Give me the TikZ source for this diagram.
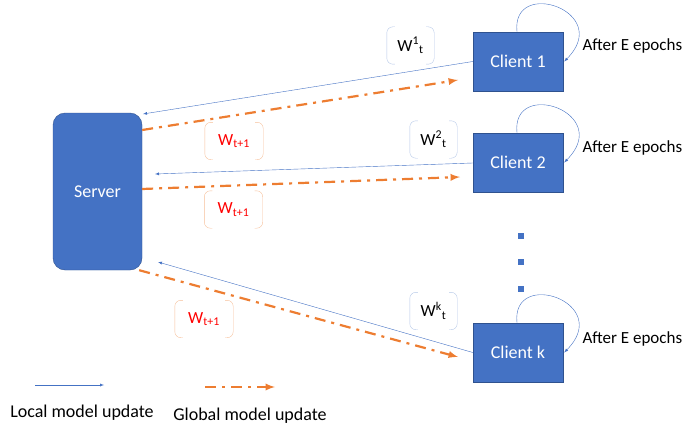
\documentclass[tikz,border=0pt]{standalone}
\usepackage{fontspec}
\setmainfont{Carlito}
\definecolor{boxblue}{HTML}{4472C4}
\definecolor{edgeblue}{HTML}{2F528F}
\definecolor{orng}{HTML}{ED7D31}
\tikzset{
  box/.style={draw=edgeblue,fill=boxblue,text=white,font=\fontsize{18}{20}\selectfont},
  local/.style={->,boxblue,thin,>=latex},
  global/.style={->,orng,line width=2.2pt,dash pattern=on 11pt off 6pt on 3pt off 6pt,>=latex},
  wlab/.style={minimum width=47pt,minimum height=37pt,font=\fontsize{17}{19}\selectfont},
  dot/.style={fill=boxblue,minimum size=6pt,inner sep=0pt},
  note/.style={font=\fontsize{17}{19}\selectfont,anchor=west},
}
% bracket pair around a named node
\newcommand{\brk}[2]{%
  \draw[#2,rounded corners=6pt] ([xshift=8pt]#1.north west) -- (#1.north west) -- (#1.south west) -- ([xshift=8pt]#1.south west);
  \draw[#2,rounded corners=6pt] ([xshift=-8pt]#1.north east) -- (#1.north east) -- (#1.south east) -- ([xshift=-8pt]#1.south east);}
\begin{document}
\begin{tikzpicture}[x=1pt,y=-1pt]
    \useasboundingbox (0,0) rectangle (685,428);
    %server and clients
    \node[box,rounded corners=12pt,minimum width=89pt,minimum height=157pt] (server) at (97.5,191.5) {Server};
    \node[box,minimum width=90pt,minimum height=59pt] (c1) at (518,61.5) {Client 1};
    \node[box,minimum width=90pt,minimum height=59pt] (c2) at (518,162.5) {Client 2};
    \node[box,minimum width=90pt,minimum height=59pt] (ck) at (518,352.5) {Client k};
    \foreach \y [count=\i] in {236,262,289}
        {%
            \node[dot] (d\i) at (521,\y) {};
        }
    %local training loops
    \foreach \c/\t in {c1/46,c2/148,ck/339}
        {%
            \draw[local] ([xshift=-1pt]\c.north) .. controls +(-6,-55) and +(50,-50) .. ([xshift=1pt]\c.east);
            \node[note] at (579,\t) {After E epochs};
        }
    %local updates
    \coordinate (s1) at (143,114);
    \coordinate (s2) at (155,174);
    \coordinate (s3) at (158,262);
    \draw[local] (c1.west) -- (s1);
    \draw[local] ([yshift=-0.5pt]c2.west) -- (s2);
    \draw[local] (ck.west) -- (s3);
    %global updates
    \coordinate (g1) at (458,80);
    \coordinate (g2) at (460,177);
    \coordinate (g3) at (458,357);
    \draw[global] ([yshift=61.5pt]server.east) -- (g1);
    \draw[global] ([yshift=2.5pt]server.east) -- (g2);
    \draw[global] ([xshift=-3pt]server.south east) -- (g3);
    %weights
    \node[wlab] (w1) at (410.5,45.5) {W\textsuperscript{1}\textsubscript{t}};
    \node[wlab] (w2) at (433.5,139.5) {W\textsuperscript{2}\textsubscript{t}};
    \node[wlab] (wk) at (433.5,311) {W\textsuperscript{k}\textsubscript{t}};
    \node[wlab,minimum width=58pt,text=red] (u1) at (234,141) {W\textsubscript{t+1}};
    \node[wlab,minimum width=58pt,text=red] (u2) at (233.5,209.5) {W\textsubscript{t+1}};
    \node[wlab,minimum width=58pt,text=red] (u3) at (204,319) {W\textsubscript{t+1}};
    \foreach \n in {w1,w2,wk}
        {%
            \brk{\n}{boxblue!40}
        }
    \foreach \n in {u1,u2,u3}
        {%
            \brk{\n}{orng!50}
        }
    %legend
    \coordinate (la) at (35,385);
    \coordinate (lb) at (104,385);
    \coordinate (ga) at (205,387);
    \coordinate (gb) at (275,387);
    \draw[local] (la) -- (lb);
    \draw[global] (ga) -- (gb);
    \node[font=\fontsize{18}{20}\selectfont] (ltext) at (82,413) {Local model update};
    \node[font=\fontsize{18}{20}\selectfont] (gtext) at (250,416) {Global model update};
\end{tikzpicture}
\end{document}
